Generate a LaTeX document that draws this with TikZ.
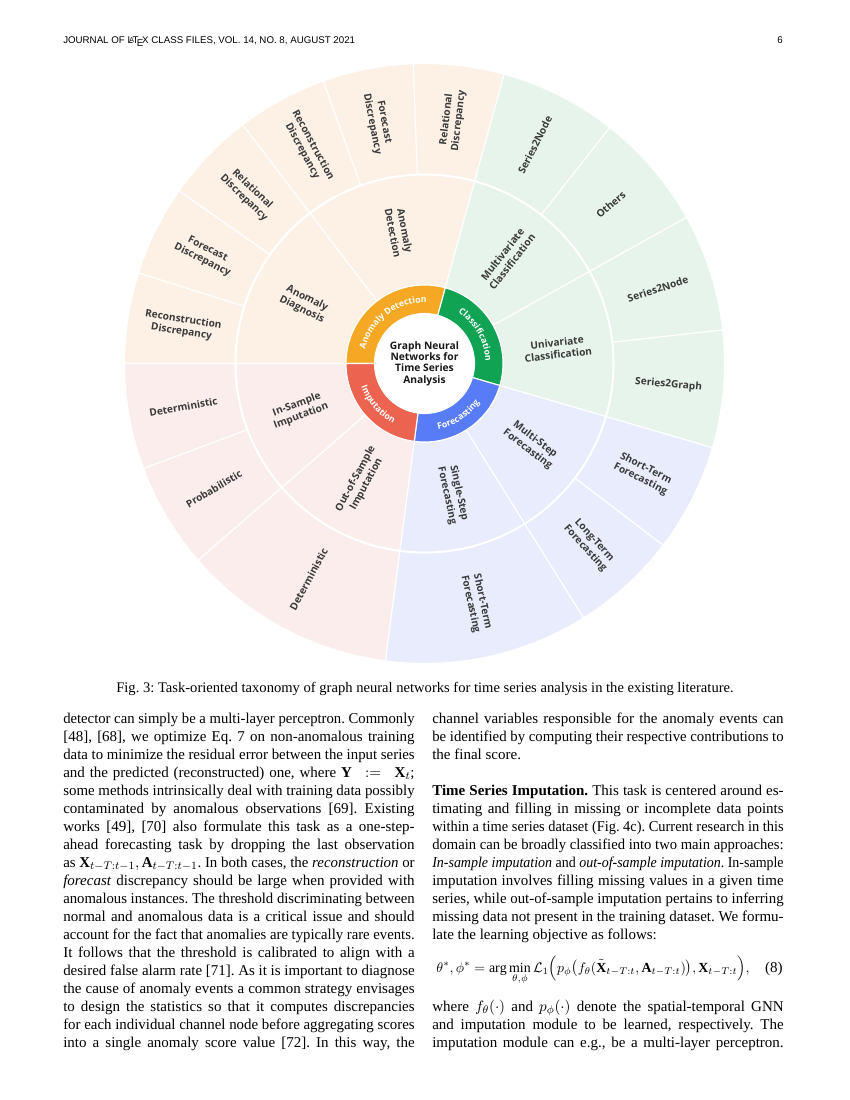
\documentclass[tikz,border=0pt]{standalone}
\usepackage{amsmath}
\usepackage{graphicx}
\usepackage{fontspec}
\setmainfont{Liberation Serif}
\newfontfamily\lblfont{Open Sans}
\newfontfamily\hdrfont{Liberation Sans}
\usetikzlibrary{decorations.text}
\definecolor{cOrange}{RGB}{245,168,35}
\definecolor{cGreen}{RGB}{16,163,84}
\definecolor{cBlue}{RGB}{88,124,245}
\definecolor{cRed}{RGB}{236,99,79}
\definecolor{pOrange}{RGB}{253,241,230}
\definecolor{pGreen}{RGB}{231,244,235}
\definecolor{pBlue}{RGB}{233,236,253}
\definecolor{pRed}{RGB}{252,237,237}
\definecolor{lblgray}{RGB}{58,58,58}
\newlength\colw \setlength\colw{253pt}
\newsavebox\linebox
\newcommand\fitline[1]{\sbox\linebox{#1}\ifdim\wd\linebox>\colw\resizebox{\colw}{\height}{\usebox\linebox}\else\hbox to \colw{#1}\fi}
\newcommand\sunsector[5]{\path[fill=#5,draw=white,line width=0.8pt] (#1:#3) arc[start angle=#1,end angle=#2,radius=#3] -- (#2:#4) arc[start angle=#2,end angle=#1,radius=#4] -- cycle;}
\newcommand\ringtxt{\lblfont\bfseries\fontsize{6.3}{7}\selectfont}
\frenchspacing
\begin{document}
\begin{tikzpicture}[x=0.72pt,y=-0.72pt,
  lbl/.style={font=\lblfont\bfseries\fontsize{7.3}{8.8}\selectfont, text=lblgray, align=center, inner sep=0pt},
  body/.style={anchor=base west, inner sep=0pt, font=\fontsize{10.8}{13}\selectfont},
  ringpath/.style={decorate, decoration={text along path, text align=center, text color=white, text={|\ringtxt|#1}}}]
\fill[white] (0,0) rectangle (850,1100);
\useasboundingbox (0,0) rectangle (850,1100);

% header
\node[anchor=base west, inner sep=0pt, font=\hdrfont\fontsize{7}{8}\selectfont] (hdr) at (63,44) {JOURNAL OF \LaTeX\ CLASS FILES, VOL. 14, NO. 8, AUGUST 2021};
\node[anchor=base east, inner sep=0pt, font=\hdrfont\fontsize{7}{8}\selectfont] (pg) at (783,44) {6};

% sunburst
\begin{scope}[shift={(305.64pt,-261.72pt)}, x=0.72pt, y=0.72pt]
  % outer ring
  \sunsector{74.6}{92.17}{189}{300}{pOrange}
  \sunsector{92.17}{109.73}{189}{300}{pOrange}
  \sunsector{109.73}{127.3}{189}{300}{pOrange}
  \sunsector{127.3}{144.87}{189}{300}{pOrange}
  \sunsector{144.87}{162.43}{189}{300}{pOrange}
  \sunsector{162.43}{180}{189}{300}{pOrange}
  \sunsector{51.875}{74.6}{189}{300}{pGreen}
  \sunsector{29.15}{51.875}{189}{300}{pGreen}
  \sunsector{6.425}{29.15}{189}{300}{pGreen}
  \sunsector{-16.3}{6.425}{189}{300}{pGreen}
  \sunsector{-37.3}{-16.3}{189}{300}{pBlue}
  \sunsector{-58}{-37.3}{189}{300}{pBlue}
  \sunsector{-97.5}{-58}{189}{300}{pBlue}
  \sunsector{180}{200.5}{189}{300}{pRed}
  \sunsector{200.5}{221}{189}{300}{pRed}
  \sunsector{221}{262.5}{189}{300}{pRed}
  % middle ring
  \sunsector{74.6}{127.3}{78.5}{189}{pOrange}
  \sunsector{127.3}{180}{78.5}{189}{pOrange}
  \sunsector{29.15}{74.6}{78.5}{189}{pGreen}
  \sunsector{-16.3}{29.15}{78.5}{189}{pGreen}
  \sunsector{-58}{-16.3}{78.5}{189}{pBlue}
  \sunsector{-97.5}{-58}{78.5}{189}{pBlue}
  \sunsector{180}{221}{78.5}{189}{pRed}
  \sunsector{221}{262.5}{78.5}{189}{pRed}
  % inner ring
  \sunsector{74.6}{180}{50}{78.5}{cOrange}
  \sunsector{-16.3}{74.6}{50}{78.5}{cGreen}
  \sunsector{-97.5}{-16.3}{50}{78.5}{cBlue}
  \sunsector{180}{262.5}{50}{78.5}{cRed}
  \draw[white, line width=1.4pt] (0,0) circle[radius=189];

  % inner ring texts
  \path[ringpath={Anomaly Detection}] (177:61) arc[start angle=177,end angle=77.6,radius=61];
  \path[ringpath={Classification}] (72:61) arc[start angle=72,end angle=-13.7,radius=61];
  \path[ringpath={Forecasting}] (-95:67.5) arc[start angle=-95,end angle=-18.8,radius=67.5];
  \path[ringpath={Imputation}] (182.5:67.5) arc[start angle=182.5,end angle=260,radius=67.5];

  % center
  \node[lbl, text=black!90, font=\lblfont\bfseries\fontsize{7.4}{8.2}\selectfont] (root) at (0,0) {Graph Neural\\Networks for\\Time Series\\Analysis};

  % middle labels
  \node[lbl, rotate=-79.05] (mAD) at (100.95:134) {Anomaly\\Detection};
  \node[lbl, rotate=-26.35] (mAG) at (153.65:134) {Anomaly\\Diagnosis};
  \node[lbl, rotate=51.85] (mMC) at (51.85:134) {Multivariate\\Classification};
  \node[lbl, rotate=6.4] (mUC) at (6.4:134) {Univariate\\Classification};
  \node[lbl, rotate=-37.15] (mMS) at (-37.15:134) {Multi-Step\\Forecasting};
  \node[lbl, rotate=-77.75] (mSS) at (-77.75:134) {Single-Step\\Forecasting};
  \node[lbl, rotate=20.5] (mIS) at (200.5:134) {In-Sample\\Imputation};
  \node[lbl, rotate=61.75] (mOS) at (241.75:134) {Out-of-Sample\\Imputation};

  % outer labels
  \node[lbl, rotate=83.4] (oRel1) at (83.4:245) {Relational\\Discrepancy};
  \node[lbl, rotate=-79.05] (oFor1) at (100.95:245) {Forecast\\Discrepancy};
  \node[lbl, rotate=-61.5] (oRec1) at (118.5:245) {Reconstruction\\Discrepancy};
  \node[lbl, rotate=-43.9] (oRel2) at (136.1:245) {Relational\\Discrepancy};
  \node[lbl, rotate=-26.35] (oFor2) at (153.65:245) {Forecast\\Discrepancy};
  \node[lbl, rotate=-8.8] (oRec2) at (171.2:245) {Reconstruction\\Discrepancy};
  \node[lbl, rotate=63.2] (oS2N1) at (63.2:245) {Series2Node};
  \node[lbl, rotate=40.5] (oOth) at (40.5:245) {Others};
  \node[lbl, rotate=17.75] (oS2N2) at (17.75:245) {Series2Node};
  \node[lbl, rotate=-4.95] (oS2G) at (-4.95:245) {Series2Graph};
  \node[lbl, rotate=-26.8] (oST1) at (-26.8:245) {Short-Term\\Forecasting};
  \node[lbl, rotate=-47.65] (oLT) at (-47.65:245) {Long-Term\\Forecasting};
  \node[lbl, rotate=-77.75] (oST2) at (-77.75:245) {Short-Term\\Forecasting};
  \node[lbl, rotate=10.25] (oDet1) at (190.25:245) {Deterministic};
  \node[lbl, rotate=30.75] (oProb) at (210.75:245) {Probabilistic};
  \node[lbl, rotate=61.75] (oDet2) at (241.75:245) {Deterministic};
\end{scope}

% caption
\node[anchor=base, inner sep=0pt, font=\fontsize{10.5}{12.6}\selectfont] (cap) at (425,692) {Fig. 3: Task-oriented taxonomy of graph neural networks for time series analysis in the existing literature.};

% left column
\node[body] (L1) at (63,723) {\fitline{detector can simply be a multi-layer perceptron. Commonly}};
\node[body] (L2) at (63,741) {\fitline{[48], [68], we optimize Eq. 7 on non-anomalous training}};
\node[body] (L3) at (63,759) {\fitline{data to minimize the residual error between the input series}};
\node[body] (L4) at (63,777) {\fitline{and the predicted (reconstructed) one, where $\mathbf{Y}\;:=\;\mathbf{X}_t$;}};
\node[body] (L5) at (63,795) {\fitline{some methods intrinsically deal with training data possibly}};
\node[body] (L6) at (63,813) {\fitline{contaminated by anomalous observations [69]. Existing}};
\node[body] (L7) at (63,831) {\fitline{works [49], [70] also formulate this task as a one-step-}};
\node[body] (L8) at (63,849) {\fitline{ahead forecasting task by dropping the last observation}};
\node[body] (L9) at (63,867) {\fitline{as $\mathbf{X}_{t-T:t-1},\mathbf{A}_{t-T:t-1}$. In both cases, the \textit{reconstruction} or}};
\node[body] (L10) at (63,885) {\fitline{\textit{forecast} discrepancy should be large when provided with}};
\node[body] (L11) at (63,903) {\fitline{anomalous instances. The threshold discriminating between}};
\node[body] (L12) at (63,921) {\fitline{normal and anomalous data is a critical issue and should}};
\node[body] (L13) at (63,939) {\fitline{account for the fact that anomalies are typically rare events.}};
\node[body] (L14) at (63,957) {\fitline{It follows that the threshold is calibrated to align with a}};
\node[body] (L15) at (63,975) {\fitline{desired false alarm rate [71]. As it is important to diagnose}};
\node[body] (L16) at (63,993) {\fitline{the cause of anomaly events a common strategy envisages}};
\node[body] (L17) at (63,1011) {\fitline{to design the statistics so that it computes discrepancies}};
\node[body] (L18) at (63,1029) {\fitline{for each individual channel node before aggregating scores}};
\node[body] (L19) at (63,1047) {\fitline{into a single anomaly score value [72]. In this way, the}};

% right column
\node[body] (R1) at (432,723) {\fitline{channel variables responsible for the anomaly events can}};
\node[body] (R2) at (432,741) {\fitline{be identified by computing their respective contributions to}};
\node[body] (R3) at (432,759) {the final score.};
\node[body] (R4) at (432,795) {\fitline{\textbf{Time Series Imputation.} This task is centered around es-}};
\node[body] (R5) at (432,813) {\fitline{timating and filling in missing or incomplete data points}};
\node[body] (R6) at (432,831) {\fitline{within a time series dataset (Fig. 4c). Current research in this}};
\node[body] (R7) at (432,849) {\fitline{domain can be broadly classified into two main approaches:}};
\node[body] (R8) at (432,867) {\fitline{\textit{In-sample imputation} and \textit{out-of-sample imputation}. In-sample}};
\node[body] (R9) at (432,885) {\fitline{imputation involves filling missing values in a given time}};
\node[body] (R10) at (432,903) {\fitline{series, while out-of-sample imputation pertains to inferring}};
\node[body] (R11) at (432,921) {\fitline{missing data not present in the training dataset. We formu-}};
\node[body] (R12) at (432,939) {late the learning objective as follows:};
\node[anchor=base, inner sep=0pt, font=\fontsize{10}{12}\selectfont] (eq) at (593,972) {$\displaystyle \theta^*,\phi^*=\arg\min_{\theta,\phi}\mathcal{L}_1\Big(p_\phi\big(f_\theta(\tilde{\mathbf{X}}_{t-T:t},\mathbf{A}_{t-T:t})\big),\mathbf{X}_{t-T:t}\Big),$};
\node[anchor=base east, inner sep=0pt, font=\fontsize{10.8}{13}\selectfont] (eqn) at (783,972) {(8)};
\node[body] (R13) at (432,1011) {\fitline{where $f_\theta(\cdot)$ and $p_\phi(\cdot)$ denote the spatial-temporal GNN}};
\node[body] (R14) at (432,1029) {\fitline{and imputation module to be learned, respectively. The}};
\node[body] (R15) at (432,1047) {\fitline{imputation module can e.g., be a multi-layer perceptron.}};
\end{tikzpicture}
\end{document}
